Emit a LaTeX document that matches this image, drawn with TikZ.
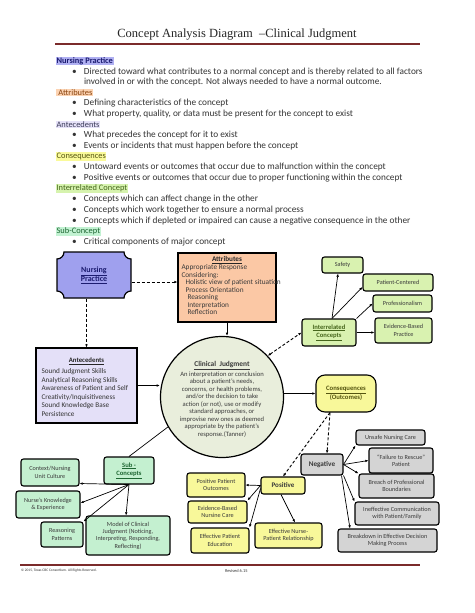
\documentclass[tikz,border=0pt]{standalone}
\usepackage{fontspec}
\setmainfont{Carlito}
\newfontfamily\titlefont{Liberation Serif}
\usetikzlibrary{arrows.meta,calc,shapes.geometric}
\definecolor{nphl}{HTML}{B0B0F2}
\definecolor{nptxt}{HTML}{1C1C70}
\definecolor{athl}{HTML}{FCD3B2}
\definecolor{attxt}{HTML}{8A4510}
\definecolor{anhl}{HTML}{E6E2F8}
\definecolor{antxt}{HTML}{3A3A58}
\definecolor{cohl}{HTML}{FAFA9A}
\definecolor{cotxt}{HTML}{555510}
\definecolor{irhl}{HTML}{D6F3AE}
\definecolor{irtxt}{HTML}{46661C}
\definecolor{schl}{HTML}{C2F2D2}
\definecolor{sctxt}{HTML}{1E6632}
\definecolor{bodytxt}{HTML}{333333}
\definecolor{boxtxt}{HTML}{3A3A3A}
\definecolor{npfill}{HTML}{9FA0EE}
\definecolor{atfill}{HTML}{FBC8A5}
\definecolor{anfill}{HTML}{E4E0F8}
\definecolor{cjfill}{HTML}{E9EEDC}
\definecolor{irfill}{HTML}{D9F2B0}
\definecolor{scfill}{HTML}{C4F0D0}
\definecolor{cofill}{HTML}{F8F89A}
\definecolor{ngfill}{HTML}{D4D4D4}
\definecolor{rulecol}{HTML}{7B2B2B}
\begin{document}
\begin{tikzpicture}[x=1pt,y=-1pt,
  every node/.style={inner sep=0pt,outer sep=0pt},
  sz/.style 2 args={minimum width=#1pt,minimum height=#2pt},
  legtext/.style={anchor=west,text=bodytxt,font=\fontsize{9.3}{10.5}\selectfont},
  leghead/.style={anchor=west,inner sep=0.6pt,font=\fontsize{8.4}{9.5}\selectfont},
  box/.style={draw=black,line width=1.1pt,rounded corners=2.5pt,align=center,inner sep=1pt,outer sep=0.5pt,text=boxtxt,font=\fontsize{6.2}{7.4}\selectfont},
  gbox/.style={box,fill=irfill},
  mbox/.style={box,fill=scfill},
  ybox/.style={box,fill=cofill},
  kbox/.style={box,fill=ngfill},
  sqbox/.style={draw=black,line width=1.1pt,outer sep=0.5pt},
  arr/.style={-{Latex[length=3.2pt,width=2.6pt]},line width=0.7pt},
  darr/.style={arr,dash pattern=on 3pt off 2pt,line width=0.9pt},
  ddarr/.style={{Latex[length=3.2pt,width=2.6pt]}-{Latex[length=3.2pt,width=2.6pt]},dash pattern=on 3pt off 2pt,line width=0.9pt}
]
\fill[white] (0,0) rectangle (474,613);
\useasboundingbox (0,0) rectangle (474,613);

% title
\node[text=black!85,font=\titlefont\fontsize{12.5}{14}\selectfont] (title) at (237,35) {Concept Analysis Diagram \ –Clinical Judgment};
\draw[rulecol,line width=2.2pt] (55,44) -- (420,44);

% legend
\node[leghead,fill=nphl,text=nptxt] (lnp) at (56,61) {\textbf{Nursing Practice}};
\node[legtext] (l1) at (72,72) {\makebox[12pt][l]{\textbullet}Directed toward what contributes to a normal concept and is thereby related to all factors};
\node[legtext] (l2) at (84,82.5) {involved in or with the concept. Not always needed to have a normal outcome.};
\node[leghead,fill=athl,text=attxt] (lat) at (56,92.5) {\ Attributes};
\node[legtext] (l3) at (72,103) {\makebox[12pt][l]{\textbullet}Defining characteristics of the concept};
\node[legtext] (l4) at (72,114) {\makebox[12pt][l]{\textbullet}What property, quality, or data must be present for the concept to exist};
\node[leghead,fill=anhl,text=antxt] (lan) at (56,124.5) {Antecedents};
\node[legtext] (l5) at (72,135) {\makebox[12pt][l]{\textbullet}What precedes the concept for it to exist};
\node[legtext] (l6) at (72,146) {\makebox[12pt][l]{\textbullet}Events or incidents that must happen before the concept};
\node[leghead,fill=cohl,text=cotxt] (lco) at (56,156.5) {Consequences};
\node[legtext] (l7) at (72,167) {\makebox[12pt][l]{\textbullet}Untoward events or outcomes that occur due to malfunction within the concept};
\node[legtext] (l8) at (72,178) {\makebox[12pt][l]{\textbullet}Positive events or outcomes that occur due to proper functioning within the concept};
\node[leghead,fill=irhl,text=irtxt] (lir) at (56,188.5) {Interrelated Concept};
\node[legtext] (l9) at (72,199) {\makebox[12pt][l]{\textbullet}Concepts which can affect change in the other};
\node[legtext] (l10) at (72,210) {\makebox[12pt][l]{\textbullet}Concepts which work together to ensure a normal process};
\node[legtext] (l11) at (72,221) {\makebox[12pt][l]{\textbullet}Concepts which if depleted or impaired can cause a negative consequence in the other};
\node[leghead,fill=schl,text=sctxt] (lsc) at (56,231.5) {Sub-Concept};
\node[legtext] (l12) at (72,242) {\makebox[12pt][l]{\textbullet}Critical components of major concept};

% Nursing practice plaque
\draw[fill=npfill,line width=1.2pt] (64,252) -- (124,252) .. controls (124,255.9) and (127.1,259) .. (131,259) -- (131,291) .. controls (127.1,291) and (124,294.1) .. (124,298) -- (64,298) .. controls (64,294.1) and (60.9,291) .. (57,291) -- (57,259) .. controls (60.9,259) and (64,255.9) .. (64,252) -- cycle;
\node[sz={74}{46},align=center,text=nptxt,font=\bfseries\fontsize{8}{9.4}\selectfont,outer sep=0.6pt] (np) at (94,275) {\underline{Nursing}\\\underline{Practice}};

% Attributes
\node[sqbox,fill=atfill,sz={98}{69}] (attr) at (227,287.5) {};
\node[anchor=north,text=black!85,font=\bfseries\fontsize{7.2}{8}\selectfont] (attrh) at ($(attr.north)+(0,4)$) {\underline{Attributes}};
\node[anchor=north west,align=left,text=boxtxt,font=\fontsize{7.3}{7.5}\selectfont] (attrb) at ($(attr.north west)+(4,12)$) {Appropriate Response\\Considering:\\\hspace*{4pt}Holistic view of patient situation\\\hspace*{4pt}Process Orientation\\\hspace*{6pt}Reasoning\\\hspace*{6pt}Interpretation\\\hspace*{6pt}Reflection};

% Antecedents
\node[sqbox,fill=anfill,sz={101}{75}] (ant) at (86.5,385.5) {};
\node[anchor=north,text=black!85,font=\bfseries\fontsize{6.8}{7.5}\selectfont] (anth) at ($(ant.north)+(0,10)$) {\underline{Antecedents}};
\node[anchor=north west,align=left,text=black!80,font=\fontsize{7.2}{8.5}\selectfont] (antb) at ($(ant.north west)+(6,21)$) {Sound Judgment Skills\\Analytical Reasoning Skills\\Awareness of Patient and Self\\Creativity/Inquisitiveness\\Sound Knowledge Base\\Persistence};

% Clinical judgment
\node[ellipse,draw=black,line width=1.2pt,fill=cjfill,sz={123}{121},outer sep=0.6pt] (cj) at (222,397) {};
\node[align=center,text=boxtxt,font=\fontsize{6.6}{7.55}\selectfont] (cjt) at (222,399.5) {{\bfseries\fontsize{7.4}{8}\selectfont\underline{Clinical\ \ Judgment}}\\[0.5pt]An interpretation or conclusion\\about a patient’s needs,\\concerns, or health problems,\\and/or the decision to take\\action (or not), use or modify\\standard approaches, or\\improvise new ones as deemed\\appropriate by the patient’s\\response.(Tanner)};

% Interrelated concepts
\node[gbox,sz={54}{27},text=irtxt,font=\bfseries\fontsize{6.6}{8.4}\selectfont] (ic) at (329,332.5) {\underline{Interrelated}\\\underline{Concepts}};
\node[gbox,sz={41}{16}] (safety) at (342.5,265) {Safety};
\node[gbox,sz={70}{17}] (pc) at (398,282.5) {Patient-Centered};
\node[gbox,sz={59}{17}] (prof) at (402.5,303.5) {Professionalism};
\node[gbox,sz={57}{25}] (ebp) at (403.5,330.5) {Evidence-Based\\Practice};

% Consequences
\node[ybox,rounded corners=9pt,sz={60}{37},text=cotxt,font=\bfseries\fontsize{6.7}{8.4}\selectfont] (cons) at (346,393.5) {\underline{Consequences}\\(Outcomes)};
\node[kbox,sz={42}{21},font=\bfseries\fontsize{7.2}{8}\selectfont] (neg) at (322,464.5) {Negative};
\node[ybox,sz={44}{17},font=\bfseries\fontsize{7}{8}\selectfont] (pos) at (283,485.5) {Positive};

\node[kbox,sz={69}{15}] (unsafe) at (390.5,437.5) {Unsafe Nursing Care};
\node[kbox,sz={64}{25}] (ftr) at (401,460.5) {“Failure to Rescue”\\Patient};
\node[kbox,sz={75}{24}] (breach) at (396.5,486) {Breach of Professional\\Boundaries};
\node[kbox,sz={84}{23}] (ineff) at (397,513.5) {Ineffective Communication\\with Patient/Family};
\node[kbox,sz={99}{23}] (bd) at (387.5,540.5) {Breakdown in Effective Decision\\Making Process};

\node[ybox,sz={58}{24}] (ppo) at (216,485) {Positive Patient\\Outcomes};
\node[ybox,sz={59}{22}] (ebnc) at (217.5,512) {Evidence-Based\\Nursine Care};
\node[ybox,sz={58}{25}] (epe) at (220,540.5) {Effective Patient\\Education};
\node[ybox,sz={67}{25}] (enpr) at (288.5,535.5) {Effective Nurse-\\Patient Relationship};

% Sub-concepts
\node[mbox,sz={50}{27},text=sctxt,font=\bfseries\fontsize{6.6}{8.4}\selectfont] (sub) at (129,470.5) {\underline{Sub -}\\\underline{Concepts}};
\node[mbox,sz={58}{27}] (ctx) at (50,472.5) {Context/Nursing\\Unit Culture};
\node[mbox,sz={64}{27}] (nk) at (48,504.5) {Nurse’s Knowledge\\\& Experience};
\node[mbox,sz={42}{25}] (rp) at (62,534.5) {Reasoning\\Patterns};
\node[mbox,sz={84}{39}] (model) at (128,535.5) {Model of Clinical\\Judgment (Noticing,\\Interpreting, Responding,\\Reflecting)};

% connectors
\draw[darr] ($(np.east)+(0,7)$) -- ($(attr.west)+(0,-5.5)$);
\draw[darr] (ant.north |- np.south) -- (ant.north);
\draw[arr] (attr.south) -- (attr.south |- cj.north);
\draw[arr] (ant.east) -- (ant.east -| cj.west);
\draw[ddarr] (cj.42) -- (ic.west);
\draw[arr] ($(ic.north)+(3,0)$) -- ($(safety.south)+(-4.5,0)$);
\draw[arr] ($(ic.north)+(3,0)$) -- ($(pc.west)+(0,4.5)$);
\draw[arr] (ic.north east) -- (prof.west);
\draw[arr] (ic.east) -- (ic.east -| ebp.west);
\draw[arr] (cons.west -| cj.east) -- (cons.west);
\draw[darr] ($(cons.south)+(-16,0)$) -- ($(neg.north)+(5,0)$);
\draw[darr] ($(cons.south)+(-16,0)$) -- (pos.north);
\draw[arr] (neg.east) -- (unsafe.south west);
\draw[arr] (neg.east) -- (ftr.west);
\draw[arr] (neg.east) -- (breach.north west);
\draw[arr] (neg.south east) -- (ineff.north west);
\draw[arr] ($(neg.south east)+(-2,0)$) -- ($(bd.north)+(-37.5,0)$);
\draw[arr] (pos.west) -- (ppo.east);
\draw[arr] (pos.west) -- (ebnc.north east);
\draw[arr] ($(pos.west)+(0,3)$) -- (epe.north east);
\draw[arr] ($(pos.south)+(-2,0)$) -- ($(enpr.north)+(6.5,0)$);
\draw[line width=0.7pt] (cj.209) -- (sub.north);
\draw[arr] (sub.south) -- ($(ctx.east)+(0,11)$);
\draw[arr] (sub.south) -- ($(nk.east)+(0,-1.5)$);
\draw[arr] (sub.south) -- (rp.north east);
\draw[arr] (sub.south) -- ($(model.north)+(-2,0)$);

% footer
\draw[rulecol,line width=1.8pt] (20,565) -- (420,565);
\node[anchor=west,text=bodytxt,font=\fontsize{3.6}{4.5}\selectfont] (copy) at (21,571) {© 2015, Texas CBC Consortium. All Rights Reserved.};
\node[anchor=west,text=bodytxt,font=\fontsize{4.4}{5}\selectfont] (rev) at (225,571) {Revised 6.15};
\end{tikzpicture}
\end{document}
